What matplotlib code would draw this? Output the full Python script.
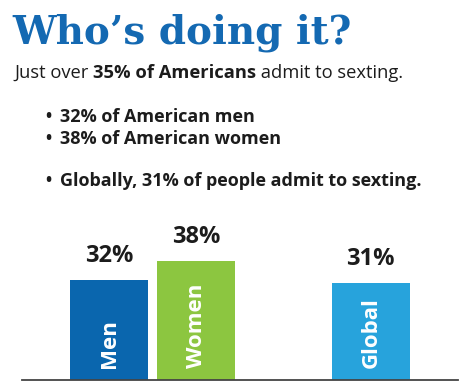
#!/usr/bin/env python3
"""Recreate the 'Who's doing it?' sexting infographic bar chart."""

import matplotlib

matplotlib.use("Agg")
import matplotlib.pyplot as plt
from matplotlib.text import Annotation

W, H = 474, 384

categories = ["Men", "Women", "Global"]
values = [32, 38, 31]
positions = [0, 1, 3]
bar_colors = ["#0a66ae", "#8cc640", "#27a3dc"]
value_labels = ["32%", "38%", "31%"]

title = "Who\u2019s doing it?"
subtitle_parts = [("Just over ", "normal"), ("35% of Americans", "bold"),
                  (" admit to sexting.", "normal")]
bullets = ["32% of American men", "38% of American women",
           "Globally, 31% of people admit to sexting."]
bullet_baselines = [122, 144, 186]

SANS = "Open Sans"
INK = "#1c1c1c"
BLUE = "#1469b2"


def fx(x):
    return x / W


def fy(y):
    return 1 - y / H


fig = plt.figure(figsize=(W / 100, H / 100), dpi=100)
fig.patch.set_facecolor("white")

# header
fig.text(fx(12), fy(44), title, family="DejaVu Serif", weight="bold",
         fontsize=28, color=BLUE, va="baseline", ha="left")

# subtitle with a bold middle part, chained piece by piece
prev = fig.text(fx(14), fy(78), subtitle_parts[0][0], family=SANS,
                weight=subtitle_parts[0][1], fontsize=13.2, color=INK,
                va="baseline")
for txt, wt in subtitle_parts[1:]:
    prev = fig.add_artist(Annotation(
        txt, xy=(1, 0), xycoords=prev, va="bottom", ha="left",
        family=SANS, weight=wt, fontsize=13.2, color=INK))

for line, yb in zip(bullets, bullet_baselines):
    fig.text(fx(45), fy(yb), "\u2022", family=SANS, weight="bold",
             fontsize=12, color=INK, va="baseline")
    fig.text(fx(60), fy(yb), line, family=SANS, weight="bold",
             fontsize=13, color=INK, va="baseline")

# bar panel
ax = fig.add_axes([fx(22), 4 / H, 436 / W, 160 / H])
ax.bar(positions, values, width=0.895, color=bar_colors)
ax.set_xlim(-1.0, 4.0)
ax.set_ylim(0, 51.2)
for s in ["top", "right", "left"]:
    ax.spines[s].set_visible(False)
ax.spines["bottom"].set_color("#444444")
ax.spines["bottom"].set_linewidth(1.3)
ax.set_xticks([])
ax.set_yticks([])
ax.patch.set_alpha(0)

for p, v, lab, cat in zip(positions, values, value_labels, categories):
    ax.annotate(lab, xy=(p, v), xytext=(0, 9), textcoords="offset points",
                ha="center", va="bottom", family=SANS, weight="bold",
                fontsize=17, color=INK)
    ax.annotate(cat, xy=(p, 0), xytext=(0, 9), textcoords="offset points",
                ha="center", va="bottom", rotation=90, family=SANS,
                weight="bold", fontsize=16, color="white")

fig.savefig("out.png", dpi=100)
